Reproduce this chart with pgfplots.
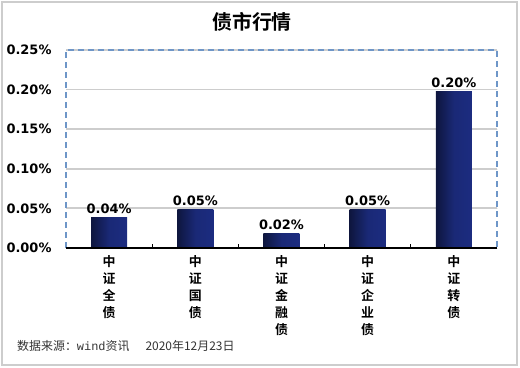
\documentclass[border=0pt]{standalone}
\usepackage{fontspec}
\setmainfont{DejaVu Sans}
\newfontfamily\cjk{Noto Sans CJK SC}
\newfontfamily\cjkb{Noto Sans CJK SC Bold}
\newfontfamily\mono{Liberation Mono}
\usepackage{pgfplots}
\pgfplotsset{compat=1.18}
\definecolor{navyL}{RGB}{14,22,62}
\definecolor{navyR}{RGB}{28,44,128}
\definecolor{dashblue}{RGB}{110,150,200}
\definecolor{gridgray}{RGB}{205,205,205}
\begin{document}
\begin{tikzpicture}
\useasboundingbox (0bp,0bp) rectangle (520bp,368bp);
\draw[gridgray, line width=2bp] (2bp,3bp) rectangle (517bp,366bp);
\node[font=\cjkb\fontsize{20}{22}\selectfont] at (252bp,346bp) {债市行情};
\begin{axis}[
  at={(66bp,120bp)}, anchor=south west,
  scale only axis, width=431bp, height=198bp,
  xmin=-0.5, xmax=4.5, ymin=0, ymax=0.25,
  axis line style={draw=dashblue, line width=1.2bp, dash pattern=on 6bp off 4bp},
  ytick={0,0.05,0.10,0.15,0.20,0.25},
  ymajorgrids=true,
  major grid style={draw=gridgray, solid, line width=1.8bp},
  major tick length=0.01pt,
  /pgf/number format/assume math mode=true,
  yticklabel={\pgfmathprintnumber[fixed,fixed zerofill,precision=2]{\tick}\%},
  yticklabel style={font=\bfseries\fontsize{13}{15}\selectfont, anchor=east, xshift=-11bp},
  xtick={0,1,2,3,4},
  xticklabels={中\\证\\全\\债, 中\\证\\国\\债, 中\\证\\金\\融\\债, 中\\证\\企\\业\\债, 中\\证\\转\\债},
  xticklabel style={font=\cjkb\fontsize{13}{17}\selectfont, align=center, anchor=north, yshift=-4bp},
  nodes near coords={\pgfmathprintnumber[fixed,fixed zerofill,precision=2]{\pgfplotspointmeta}\%},
  nodes near coords style={font=\bfseries\fontsize{13}{15}\selectfont, black, yshift=1bp},
  clip=false,
]
\draw[gridgray, line width=1.8bp] (rel axis cs:0,0.2) -- (rel axis cs:1,0.2);
\draw[gridgray, line width=1.8bp] (rel axis cs:0,0.4) -- (rel axis cs:1,0.4);
\draw[gridgray, line width=1.8bp] (rel axis cs:0,0.6) -- (rel axis cs:1,0.6);
\draw[gridgray, line width=1.8bp] (rel axis cs:0,0.8) -- (rel axis cs:1,0.8);
\addplot[ybar, bar width=36bp, bar shift=0pt, draw=none, left color=navyL, right color=navyR, middle color=navyR!85!navyL] coordinates {(0,0.038)};
\addplot[ybar, bar width=36bp, bar shift=0pt, draw=none, left color=navyL, right color=navyR, middle color=navyR!85!navyL] coordinates {(1,0.048)};
\addplot[ybar, bar width=36bp, bar shift=0pt, draw=none, left color=navyL, right color=navyR, middle color=navyR!85!navyL] coordinates {(2,0.018)};
\addplot[ybar, bar width=36bp, bar shift=0pt, draw=none, left color=navyL, right color=navyR, middle color=navyR!85!navyL] coordinates {(3,0.048)};
\addplot[ybar, bar width=36bp, bar shift=0pt, draw=none, left color=navyL, right color=navyR, middle color=navyR!85!navyL] coordinates {(4,0.197)};
\draw[black, line width=1.5bp] (rel axis cs:0,0) -- (rel axis cs:1,0);
\draw[black, line width=1.2bp] (rel axis cs:0.2,0) -- (rel axis cs:0.2,0.02);
\draw[black, line width=1.2bp] (rel axis cs:0.4,0) -- (rel axis cs:0.4,0.02);
\draw[black, line width=1.2bp] (rel axis cs:0.6,0) -- (rel axis cs:0.6,0.02);
\draw[black, line width=1.2bp] (rel axis cs:0.8,0) -- (rel axis cs:0.8,0.02);
\end{axis}
\node[anchor=west, font=\cjk\fontsize{12}{14}\selectfont, text=black!80, inner sep=0pt] at (17bp,22bp) {数据来源：{\mono wind}资讯\hspace{16bp}2020年12月23日};
\end{tikzpicture}
\end{document}
